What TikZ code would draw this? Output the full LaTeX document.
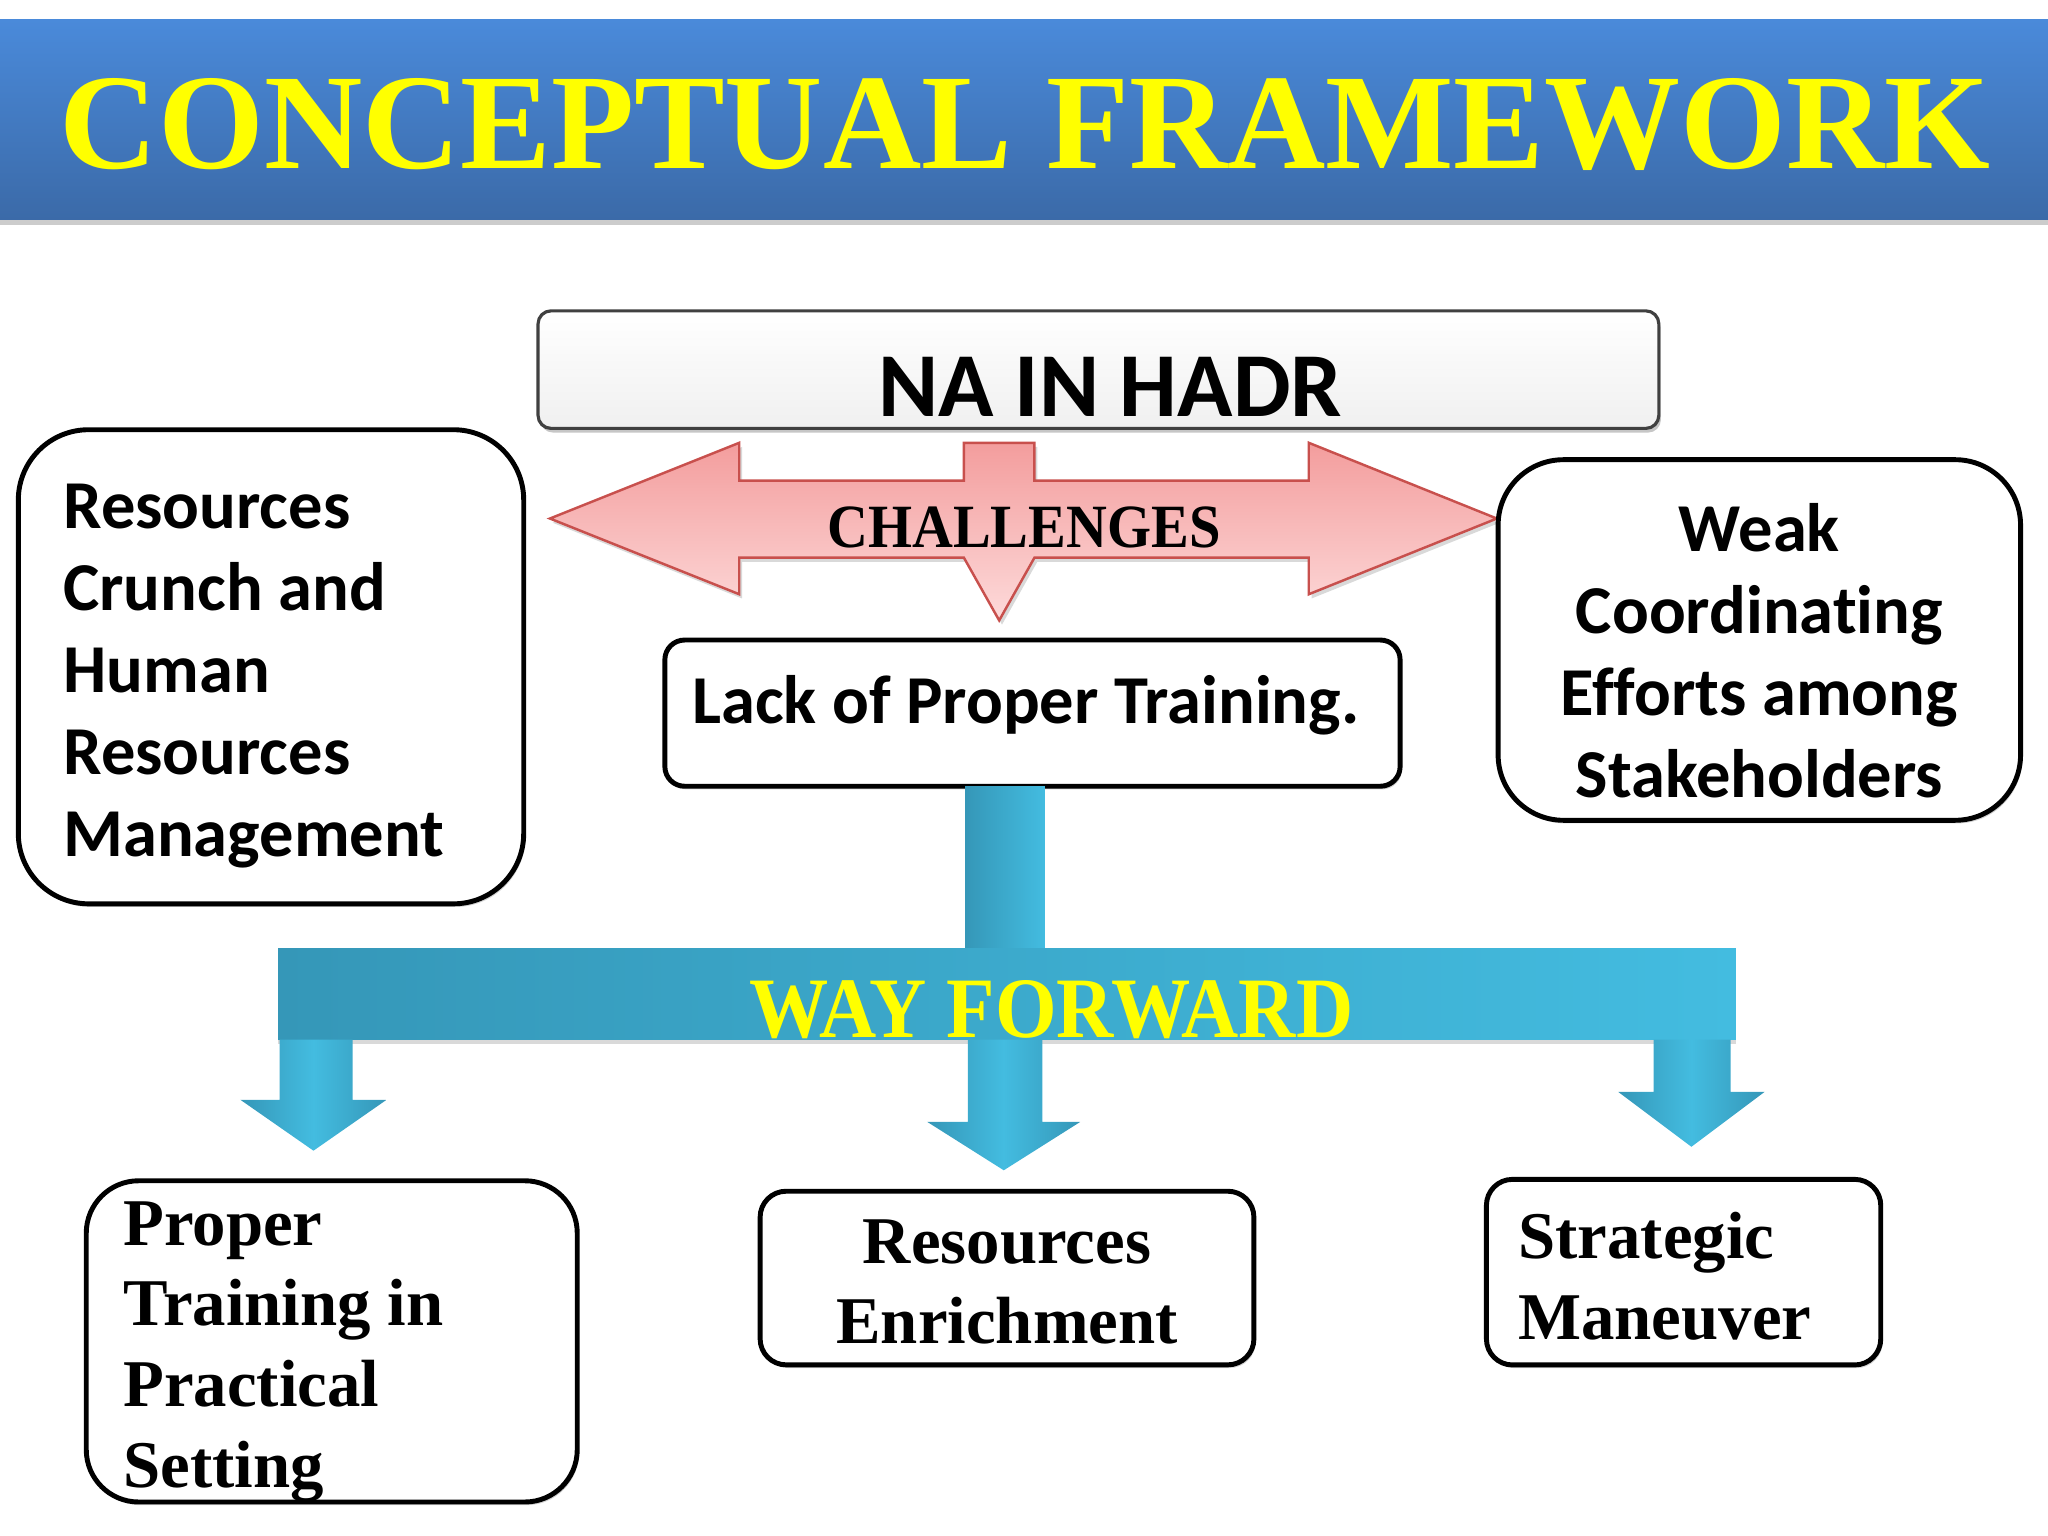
\documentclass[tikz,border=0pt]{standalone}
\usepackage{fontspec}
\setmainfont{Liberation Serif}
\newfontfamily\calib[Ligatures=NoCommon]{Carlito}
\newfontfamily\narrowserif[FakeStretch=0.92]{Liberation Serif}
\usepackage{tikz}
\usetikzlibrary{
  positioning,
  calc,
  shadows
}
\definecolor{titleblue}{HTML}{4A8ADA}
\definecolor{titledark}{HTML}{3B6AA8}
\definecolor{titleyel}{HTML}{FFFF00}
\definecolor{pinkdark}{HTML}{F39D9D}
\definecolor{pinklight}{HTML}{FDDADA}
\definecolor{pinkedge}{HTML}{C8504D}
\definecolor{tealdark}{HTML}{3597B8}
\definecolor{teallight}{HTML}{43BCE0}

\begin{document}
\begin{tikzpicture}[
  x=0.37163pt, y=-0.37163pt,
  box/.style={draw, line width=1.4pt, fill=white, rounded corners=#1,
              drop shadow={shadow xshift=0.5pt, shadow yshift=-0.9pt, opacity=0.35}},
  box/.default=7pt,
  sanstext/.style={font=\calib\bfseries\fontsize{19.5}{23.3}\selectfont,
                   align=center, inner sep=0pt},
  seriftext/.style={font=\bfseries\fontsize{19}{23}\selectfont,
                    align=center, inner sep=0pt},
  teal/.style={left color=tealdark, right color=teallight},
  tealarrow/.style={left color=tealdark, right color=tealdark, middle color=teallight},
]
  \useasboundingbox (0,0) rectangle (1568,1176);

  % Title bar
  \node[top color=titleblue, bottom color=titledark, minimum width=582.71pt,
        minimum height=56.86pt, inner sep=0pt,
        drop shadow={shadow xshift=0pt, shadow yshift=-1.5pt, opacity=0.4}]
    (titlebar) at (784,91.5) {};
  \node[text=titleyel, font=\bfseries\fontsize{38.7}{42}\selectfont] (title)
    at (785,95) {CONCEPTUAL FRAMEWORK};

  % Top box
  \node[draw=black!75, line width=0.9pt, rounded corners=3.7pt,
        top color=white, bottom color=black!6,
        minimum width=318.9pt, minimum height=33.45pt,
        drop shadow={shadow xshift=0.6pt, shadow yshift=-1.2pt, opacity=0.45}]
    (hadr) at (841,283) {};
  \node[font=\calib\bfseries\fontsize{26}{28}\selectfont] (hadrtxt)
    at (850,296) {NA IN HADR};

  % Challenges arrow
  \path[draw=pinkedge, line width=0.7pt, top color=pinkdark, bottom color=pinklight,
        drop shadow={shadow xshift=0.8pt, shadow yshift=-1.2pt, opacity=0.3}]
    (421,397) -- (566,339) -- (566,368) -- (738,368) -- (738,339) -- (792,339)
    -- (792,368) -- (1002,368) -- (1002,339) -- (1146,397) -- (1002,455)
    -- (1002,427) -- (792,427) -- (765,475) -- (738,427) -- (566,427)
    -- (566,455) -- cycle;
  \node[font=\narrowserif\bfseries\fontsize{17.5}{20}\selectfont] (chal)
    at (784,404) {CHALLENGES};

  % Challenge boxes
  \node[box=20pt, minimum width=143.8pt, minimum height=134.9pt] (crunch)
    at (207.5,510.5) {};
  \node[sanstext, align=flush left, anchor=west] (crunchtxt) at (48,517.5)
    {Resources\\Crunch and\\Human\\Resources\\Management};
  \node[box=5.6pt, minimum width=209.2pt, minimum height=41.6pt] (lack)
    at (790.5,546) {};
  \node[sanstext] (lacktxt) at (785.5,540) {Lack of Proper Training.};
  \node[box=18.6pt, minimum width=148.65pt, minimum height=102.6pt] (weak)
    at (1347,490) {};
  \node[sanstext] (weaktxt) at (1347,498)
    {Weak\\Coordinating\\Efforts among\\Stakeholders};

  % Way forward connector
  \path[teal] (739,602) rectangle (800,726);
  \path[teal, drop shadow={shadow xshift=0pt, shadow yshift=-1.2pt, opacity=0.3}]
    (213,726) rectangle (1329,796);
  \node[text=titleyel, font=\narrowserif\bfseries\fontsize{24.5}{26}\selectfont]
    (way) at (805,773) {WAY FORWARD};
  \foreach \sl/\sr/\hl/\hr/\hy/\ty in {214/270/184/296/842/881,
                                        741/798/710/827/859/896,
                                        1266/1325/1239/1351/836/878} {
    \path[tealarrow] (\sl,796) -- (\sr,796) -- (\sr,\hy) -- (\hr,\hy)
      -- ({(\hl+\hr)/2},\ty) -- (\hl,\hy) -- (\sl,\hy) -- cycle;
  }

  % Way forward boxes
  \node[box=14.9pt, minimum width=139.7pt, minimum height=91.4pt] (practical)
    at (254,1027) {};
  \node[seriftext, align=flush left, anchor=west] (practicaltxt) at (94,1035)
    {Proper\\Training in\\Practical\\Setting};
  \node[box=7.4pt, minimum width=140.5pt, minimum height=49.4pt] (enrich)
    at (771,978.5) {};
  \node[seriftext] (enrichtxt) at (771,981.5) {Resources\\Enrichment};
  \node[box=7.4pt, minimum width=112.2pt, minimum height=52.8pt] (maneuver)
    at (1289,974) {};
  \node[seriftext, align=flush left, anchor=west] (maneuvertxt) at (1162,977)
    {Strategic\\Maneuver};

\end{tikzpicture}
\end{document}
